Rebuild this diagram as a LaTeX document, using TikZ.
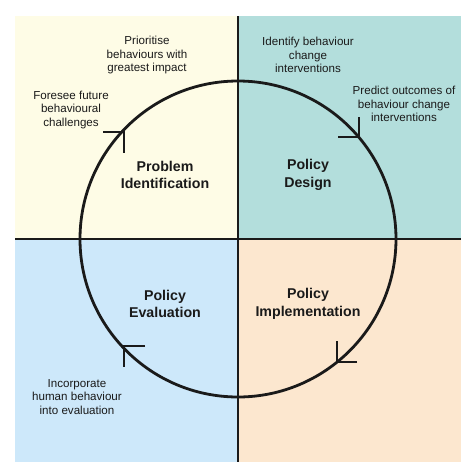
\documentclass[tikz,border=0pt]{standalone}
\usepackage{fontspec}
\setmainfont{Liberation Sans}
\definecolor{creamq}{HTML}{FEFCE6}
\definecolor{tealq}{HTML}{B3DEDC}
\definecolor{blueq}{HTML}{CDE8FA}
\definecolor{peachq}{HTML}{FCE7CF}
\definecolor{inkc}{HTML}{1A1A1A}
\begin{document}
\begin{tikzpicture}[x=1pt,y=-1pt,
  divider/.style={draw=inkc,line width=1.6pt},
  cyclepath/.style={draw=inkc,line width=2.8pt},
  tipleg/.style={draw=inkc,line width=2.3pt},
  smalltext/.style={text=inkc,align=center,inner sep=0pt,font=\fontsize{11.6}{13.8}\selectfont},
  phase/.style={text=inkc,align=center,inner sep=0pt,font=\bfseries\fontsize{14.2}{17.5}\selectfont}]
\useasboundingbox (0,0) rectangle (474,472);
\fill[white] (0,0) rectangle (474,472);
% quadrants
\fill[creamq] (15,16) rectangle (238,239);
\fill[tealq] (238,16) rectangle (461,239);
\fill[blueq] (15,239) rectangle (238,462);
\fill[peachq] (238,239) rectangle (461,462);
% dividers
\coordinate (vtop) at (238,16);
\coordinate (vbot) at (238,462);
\coordinate (hleft) at (15,239);
\coordinate (hright) at (461,239);
\draw[divider] (vtop) -- (vbot);
\draw[divider] (hleft) -- (hright);
% cycle
\coordinate (ctr) at (238,239);
\draw[cyclepath] (ctr) circle (158pt);
% arrow marks
\coordinate (tipA) at (124,132);
\coordinate (tipB) at (359,137);
\coordinate (tipC) at (337,362);
\coordinate (tipD) at (124,346);
\draw[tipleg] ([xshift=-21pt]tipA) -- (tipA) -- ([yshift=-21pt]tipA);
\draw[tipleg] ([xshift=-21pt]tipB) -- (tipB) -- ([yshift=20pt]tipB);
\draw[tipleg] ([xshift=20pt]tipC) -- (tipC) -- ([yshift=21pt]tipC);
\draw[tipleg] ([xshift=21pt]tipD) -- (tipD) -- ([yshift=-21pt]tipD);
% phase labels
\node[phase] (pi) at (165,175) {Problem\\Identification};
\node[phase] (pd) at (308,175) {Policy\\Design};
\node[phase] (pe) at (165,304) {Policy\\Evaluation};
\node[phase] (pim) at (308,304) {Policy\\Implementation};
% activity labels
\node[smalltext] (prio) at (147,55) {Prioritise\\behaviours with\\greatest impact};
\node[smalltext] (fore) at (71,110) {Foresee future\\behavioural\\challenges};
\node[smalltext] (iden) at (308,55) {Identify behaviour\\change\\interventions};
\node[smalltext] (pred) at (404,104) {Predict outcomes of\\behaviour change\\interventions};
\node[smalltext] (inco) at (77,397) {Incorporate\\human behaviour\\into evaluation};
\end{tikzpicture}
\end{document}
